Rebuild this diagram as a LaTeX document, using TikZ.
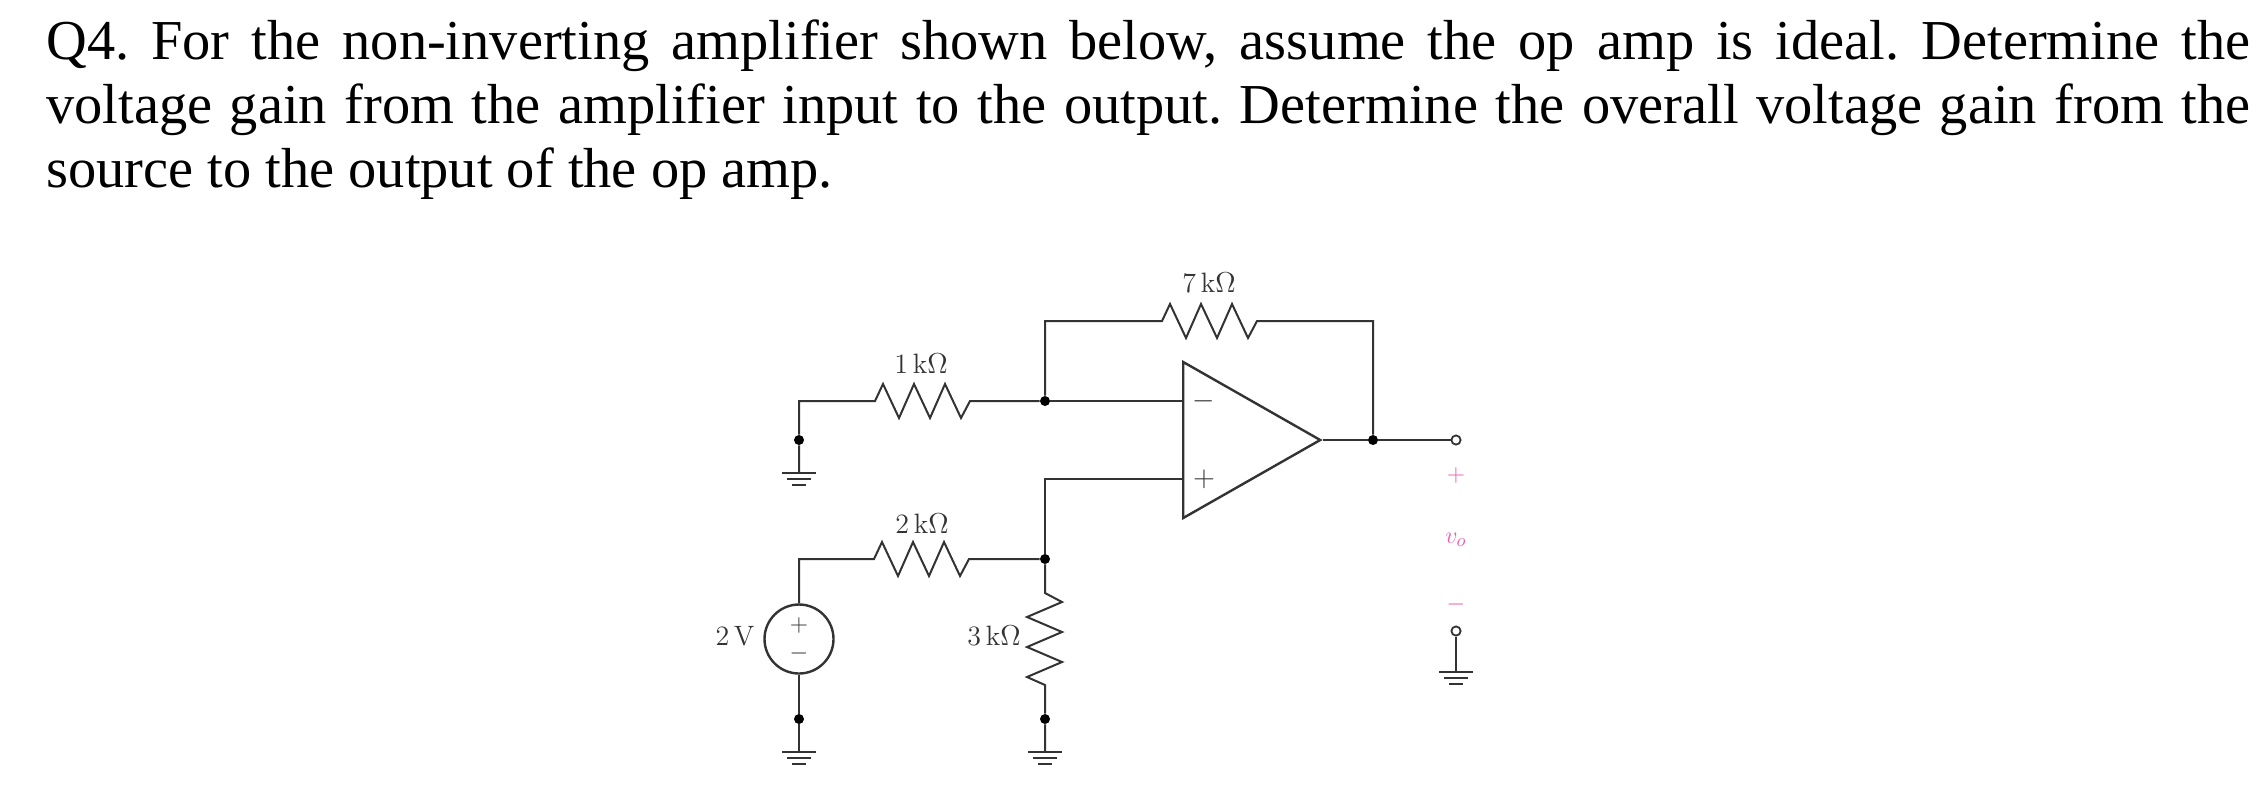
\documentclass[tikz,border=0pt]{standalone}
\usepackage{fontspec}
\usepackage{amsmath}
\newfontfamily\bodyfont{Liberation Serif}
\usetikzlibrary{shapes.geometric,calc}
\definecolor{wire}{HTML}{333333}
\definecolor{lab}{HTML}{333333}
\definecolor{vopink}{HTML}{E85FB0}
\tikzset{
  x=0.5pt,y=-0.5pt,
  wirepath/.style={draw=wire,line width=1pt,line join=miter},
  dotnode/.style={circle,fill=black,inner sep=0pt,minimum size=5pt},
  termnode/.style={circle,draw=wire,fill=white,line width=0.9pt,inner sep=0pt,minimum size=4.6pt},
  valuelabel/.style={text=lab,font=\fontsize{14}{16}\selectfont,inner sep=0pt},
  pinklabel/.style={text=vopink,inner sep=0pt,font=\fontsize{13}{15}\selectfont},
  signlabel/.style={text=lab,inner sep=0pt,font=\fontsize{15}{17}\selectfont},
  srclabel/.style={text=lab,inner sep=0pt,font=\fontsize{12.5}{14}\selectfont},
  bodyline/.style={anchor=west,inner sep=0pt,font=\fontsize{28.2}{32}\selectfont\bodyfont\frenchspacing},
  resH/.style={to path={-- ++(8,-17) -- ++(16,34) -- ++(15,-34) -- ++(16,34) -- ++(15,-34) -- ++(16,34) -- (\tikztotarget)}},
  resV/.style={to path={-- ++(17,9) -- ++(-35,15) -- ++(35,15) -- ++(-35,15) -- ++(35,15) -- ++(-35,15) -- (\tikztotarget)}},
  gndA/.style={draw=wire,line width=1.2pt},
}
\newcommand{\gnd}[1]{%
  \draw[gndA] ($(#1)+(-17,0)$) -- ($(#1)+(17,0)$);
  \draw[gndA] ($(#1)+(-12,6)$) -- ($(#1)+(12,6)$);
  \draw[gndA] ($(#1)+(-7,12)$) -- ($(#1)+(7,12)$);
}
\begin{document}
\begin{tikzpicture}
\useasboundingbox[fill=white] (0,0) rectangle (2268,800);
% text
\node[bodyline] (l1) at (46,46) {\hbox to 1102pt{Q4. For the non-inverting amplifier shown below, assume the op amp is ideal. Determine the}};
\node[bodyline] (l2) at (46,110) {\hbox to 1102pt{voltage gain from the amplifier input to the output. Determine the overall voltage gain from the}};
\node[bodyline] (l3) at (46,174) {source to the output of the op amp.};
% op amp
\node[isosceles triangle,isosceles triangle apex angle=59.3,isosceles triangle stretches,draw=wire,line width=1.2pt,inner sep=0pt,minimum width=78pt,minimum height=68.5pt,anchor=lower side,shape border rotate=0] (op) at (1182,440) {};
\node[signlabel] at (1204,401) {$-$};
\node[signlabel] at (1204,479) {$+$};
% junctions
\node[dotnode] (jn) at (1045,401) {};
\node[dotnode] (jp) at (1045,559) {};
\node[dotnode] (jo) at (1373,440) {};
\node[termnode] (to) at (1456,440) {};
\node[termnode] (tb) at (1456,631) {};
\node[dotnode] (d1) at (799,440) {};
\node[dotnode] (d2) at (799,719) {};
\node[dotnode] (d3) at (1045,719) {};
\coordinate (g1) at (799,473);
\coordinate (g2) at (799,752);
\coordinate (g3) at (1045,752);
\coordinate (g4) at (1456,672);
% source
\node[circle,draw=wire,line width=1.2pt,inner sep=0pt,minimum size=34.5pt] (vs) at (799,639) {};
\node[srclabel] at (799,625) {$+$};
\node[srclabel] at (799,653) {$-$};
% resistor ends
\coordinate (r1a) at (875,401); \coordinate (r1b) at (970,401);
\coordinate (r2a) at (874,559); \coordinate (r2b) at (969,559);
\coordinate (r3a) at (1045,593); \coordinate (r3b) at (1045,685);
\coordinate (r7a) at (1162,321); \coordinate (r7b) at (1257,321);
\coordinate (tl) at (1045,321); \coordinate (tr) at (1373,321);
\coordinate (cl1) at (799,401); \coordinate (cl2) at (799,559);
\coordinate (pin) at (1045,479);
% wires
\draw[wirepath] (g1) -- (d1) -- (cl1) -- (r1a) to[resH] (r1b) -- (jn);
\draw[wirepath] (jn) -- (jn -| op.lower side);
\draw[wirepath] (jn) -- (tl) -- (r7a) to[resH] (r7b) -- (tr) -- (jo);
\draw[wirepath] (op.apex) -- (jo) -- (to);
\draw[wirepath] (pin -| op.lower side) -- (pin) -- (jp);
\draw[wirepath] (vs) -- (cl2) -- (r2a) to[resH] (r2b) -- (jp);
\draw[wirepath] (vs) -- (d2) -- (g2);
\draw[wirepath] (jp) -- (r3a) to[resV] (r3b) -- (d3) -- (g3);
\draw[wirepath] (tb) -- (g4);
\gnd{g1}\gnd{g2}\gnd{g3}\gnd{g4}
% labels
\node[valuelabel] at (921,364) {1\,k$\Omega$};
\node[valuelabel] at (922,524) {2\,k$\Omega$};
\node[valuelabel] at (994,636) {3\,k$\Omega$};
\node[valuelabel] at (1209,283) {7\,k$\Omega$};
\node[valuelabel] at (735,636) {2\,V};
\node[pinklabel] at (1456,475) {$+$};
\node[pinklabel] at (1456,540) {$v_o$};
\node[pinklabel] at (1456,604) {$-$};
\end{tikzpicture}
\end{document}
